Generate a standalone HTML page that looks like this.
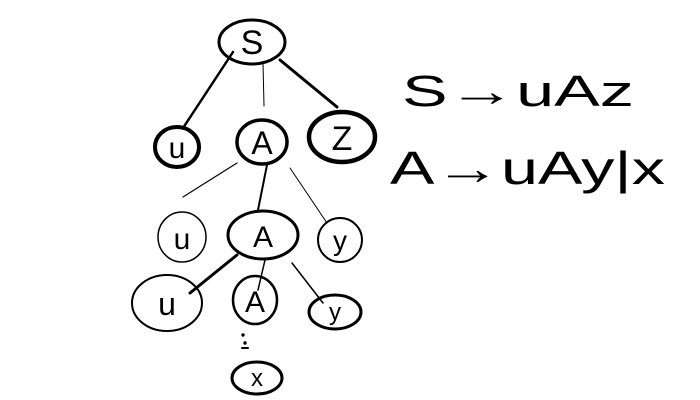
<!DOCTYPE html>
<html><head><style>body{margin:0;background:#fff}svg{display:block}</style></head>
<body>
<svg width="700" height="400" viewBox="0 0 700 400" xmlns="http://www.w3.org/2000/svg">
<g fill="none" stroke="#000" stroke-linecap="round">
<ellipse cx="252" cy="42" rx="33" ry="22" stroke-width="3"/>
<ellipse cx="177" cy="147" rx="22" ry="20" stroke-width="4"/>
<ellipse cx="262" cy="142" rx="25" ry="22" stroke-width="3.5"/>
<ellipse cx="342" cy="137" rx="33" ry="25" stroke-width="4.5"/>
<ellipse cx="182" cy="237" rx="24" ry="25" stroke-width="1.5"/>
<ellipse cx="263" cy="235" rx="35" ry="24" stroke-width="3"/>
<ellipse cx="340" cy="240" rx="22" ry="22" stroke-width="2"/>
<ellipse cx="167" cy="303" rx="35" ry="28" stroke-width="2"/>
<ellipse cx="255" cy="300" rx="22" ry="24" stroke-width="2.5"/>
<ellipse cx="335" cy="312" rx="26" ry="17" stroke-width="3"/>
<ellipse cx="257" cy="378" rx="25" ry="16" stroke-width="3"/>
<line x1="233" y1="52" x2="183" y2="128" stroke-width="2.5"/>
<line x1="263" y1="63" x2="264" y2="106" stroke-width="1"/>
<line x1="280" y1="60" x2="337" y2="107" stroke-width="3"/>
<line x1="237" y1="163" x2="183" y2="197" stroke-width="1.2"/>
<line x1="267" y1="165" x2="258" y2="210" stroke-width="2"/>
<line x1="290" y1="168" x2="327" y2="223" stroke-width="1"/>
<line x1="237" y1="255" x2="190" y2="293" stroke-width="3"/>
<line x1="265" y1="260" x2="258" y2="290" stroke-width="1.5"/>
<line x1="292" y1="263" x2="323" y2="303" stroke-width="1.5"/>
<circle cx="243" cy="335" r="1.2" fill="#000"/>
<circle cx="245" cy="343" r="1.2" fill="#000"/>
<line x1="242" y1="348" x2="248" y2="348" stroke-width="2"/>
</g>
<g font-family="Liberation Sans, sans-serif" text-anchor="middle" fill="#000">
<text x="252" y="54" font-size="34">S</text>
<text x="177" y="158" font-size="30">u</text>
<text x="262" y="154" font-size="32">A</text>
<text x="342" y="150" font-size="34">Z</text>
<text x="182" y="249" font-size="30">u</text>
<text x="263" y="247" font-size="30">A</text>
<text x="340" y="250" font-size="28">y</text>
<text x="167" y="315" font-size="32">u</text>
<text x="255" y="312" font-size="30">A</text>
<text x="335" y="320" font-size="24">y</text>
<text x="257" y="386" font-size="24">x</text>
<text x="402" y="106" font-size="44" text-anchor="start" textLength="232" lengthAdjust="spacingAndGlyphs">S→uAz</text>
<text x="390" y="184" font-size="46" text-anchor="start" textLength="275" lengthAdjust="spacingAndGlyphs">A→uAy|x</text>
</g>
</svg>
</body></html>
